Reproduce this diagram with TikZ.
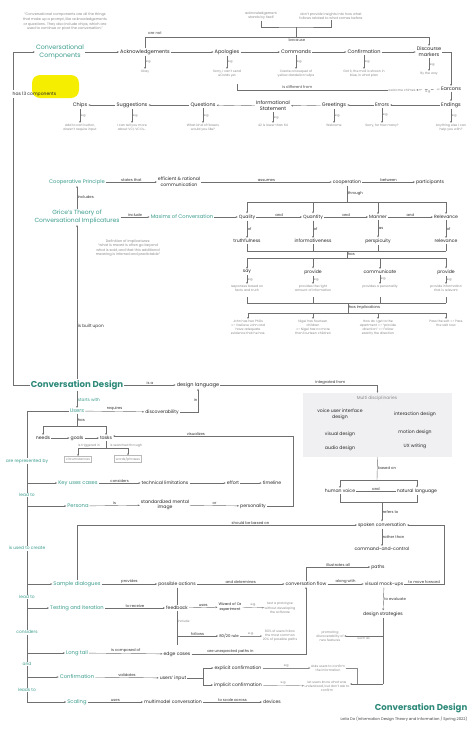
\documentclass[tikz,border=0pt]{standalone}
\usepackage{fontspec}
\setmainfont{Poppins}
\usetikzlibrary{arrows.meta,calc}
\definecolor{tealc}{HTML}{3A9C8C}
\definecolor{tealdark}{HTML}{2E8A7A}
\definecolor{lnc}{HTML}{707070}
\definecolor{egc}{HTML}{8A8A8A}
\definecolor{boxc}{HTML}{F0F0F2}
\definecolor{hl}{HTML}{F5EE00}
\begin{document}
\begin{tikzpicture}[x=1pt,y=-1pt,
 c/.style={font=\fontsize{4.6}{5.6}\selectfont, text=black!85, inner sep=1pt, align=center},
 ct/.style={font=\fontsize{5}{6}\selectfont, text=black!85, inner sep=1pt, align=center},
 tc/.style={font=\fontsize{5.2}{6.2}\selectfont, text=tealc, inner sep=1pt, align=center},
 eg/.style={font=\fontsize{3.2}{4.1}\selectfont, text=egc, inner sep=0.5pt, align=center},
 lk/.style={font=\fontsize{3.8}{4.6}\selectfont, text=black!80, inner sep=0.6pt},
 egl/.style={font=\fontsize{3.2}{4}\selectfont, text=egc, inner sep=0.6pt},
 tlk/.style={font=\fontsize{4.4}{5.3}\selectfont, text=tealc, fill=white, inner sep=0.8pt},
 ln/.style={draw=lnc, line width=0.4pt},
 ar/.style={ln, -{Stealth[length=2pt,width=1.7pt]}},
 gbox/.style={draw=gray!55, line width=0.35pt, inner sep=1.5pt, font=\fontsize{3.2}{4}\selectfont, text=egc}
]
\fill[white] (0,0) rectangle (474,732);
\path[use as bounding box] (0,0) rectangle (474,732);

% ---------- top section ----------
\node[eg, font=\fontsize{3.5}{4.6}\selectfont] (quote) at (65,22) {“Conversational components are all the things\\that make up a prompt, like acknowledgements\\or questions. They also include chips, which are\\used to continue or pivot the conversation.”};
\node[eg, font=\fontsize{3.4}{4.3}\selectfont] (ackt) at (261,16) {acknowledgement\\stands by itself};
\node[eg, font=\fontsize{3.4}{4.3}\selectfont] (dont) at (331,16) {don't provide insights into how what\\follows related to what comes before};

\node[tc, font=\fontsize{6.3}{7.6}\selectfont] (cc) at (60,52) {Conversational\\Components};
\node[ct] (ack) at (145,52) {Acknowledgements};
\node[ct] (apol) at (227,52) {Apologies};
\node[ct] (cmd) at (296,52) {Commands};
\node[ct] (conf) at (364,52) {Confirmation};
\node[ct] (disc) at (429,52) {Discourse\\markers};
\node[ct] (earc) at (451,89) {Earcons};
\node[eg] (wc) at (402,90) {welcome chimes};

\node[eg, anchor=north] (ackx) at (145,69) {Okay};
\node[eg, anchor=north] (apolx) at (227,69) {Sorry, I can't send\\eCards yet};
\node[eg, anchor=north] (cmdx) at (296,69) {Create a bouquet of\\yellow dandelion tulips};
\node[eg, anchor=north] (confx) at (364,69) {Got it, the mail is shown in\\blue, in what plan};
\node[eg, anchor=north] (discx) at (429,71) {By the way};

\node[ct] (chips) at (80,105) {Chips};
\node[ct] (sugg) at (132,105) {Suggestions};
\node[ct] (ques) at (203,105) {Questions};
\node[ct] (info) at (273,106) {Informational\\Statement};
\node[ct] (greet) at (334,105) {Greetings};
\node[ct] (err) at (382,105) {Errors};
\node[ct] (endg) at (451,105) {Endings};

\node[eg, anchor=north] (chipsx) at (80,123) {Add to cart button,\\doesn't require input};
\node[eg, anchor=north] (suggx) at (132,123) {I can tell you more\\about VCI, VCI is...};
\node[eg, anchor=north] (quesx) at (203,123) {What kind of flowers\\would you like?};
\node[eg, anchor=north] (infox) at (273,123) {42 is lower than 64};
\node[eg, anchor=north] (greetx) at (334,123) {Welcome};
\node[eg, anchor=north] (errx) at (382,123) {Sorry, for how many?};
\node[eg, anchor=north] (endgx) at (451,123) {Anything else I can\\help you with?};

\draw[ar] (cc) -- (ack);
\draw[ar] (ack) -- (apol);
\draw[ar] (apol) -- (cmd);
\draw[ar] (cmd) -- (conf);
\draw[ar] (conf) -- (disc);
\draw[ar] (disc.east) -| (earc.north);
\draw[ar] (earc) -- (endg);
\draw[ar] (endg) -- (err);
\draw[ar] (err) -- (greet);
\draw[ar] (greet) -- (info);
\draw[ar] (info) -- (ques);
\draw[ar] (ques) -- (sugg);
\draw[ar] (sugg) -- (chips);
\draw[ar, dashed] (earc.west) -- (wc.east) node[midway, below=0.6pt, egl] {e.g.};

\foreach \a in {ack,apol,cmd,conf,disc,chips,sugg,ques,info,greet,err,endg}{
  \draw[ar] (\a.south) -- (\a x.north) node[midway, right, egl] {e.g.};
}

\coordinate (an) at (145,37);
\draw[ar] (ack.north) -- (an) -| (disc.north);
\node[lk, text=black!70] (arenot) at (155,33) {are not};
\node[lk, text=black!70] (because) at (297,40.5) {because};
\coordinate (bm) at (296,27);
\draw[ln] (ackt.south) |- (bm) -| (dont.south);
\draw[ln] (bm) -- (bm |- an);

\coordinate (dfa) at (237,84);
\draw[ln] (dfa) |- (wc.west) node[pos=0.7, above=0.3pt, lk, text=black!70] {is different from};

\coordinate (lx1) at (13,385);
\coordinate (lx2) at (13,52);

% ---------- Grice section ----------
\node[tc] (coop) at (77,182) {Cooperative Principle};
\node[c] (eff) at (179,182) {efficient \& rational\\communication};
\node[c] (coopn) at (347,182) {cooperation};
\node[c] (part) at (430,182) {participants};
\node[tc, font=\fontsize{6}{7.4}\selectfont] (grice) at (77,217) {Grice's Theory of\\Conversational Implicatures};
\node[tc] (maxims) at (182,217) {Maxims of Conversation};
\node[c] (qual) at (247,217) {Quality};
\node[c] (quan) at (313,217) {Quantity};
\node[c] (mann) at (378,217) {Manner};
\node[c] (rel) at (446,217) {Relevance};
\node[c] (truth) at (247,241) {truthfulness};
\node[c] (inform) at (313,241) {informativeness};
\node[c] (persp) at (378,241) {perspicuity};
\node[c] (relv) at (446,241) {relevance};

\draw[ar] (coop) -- (eff) node[midway, above, lk] {states that};
\draw[ar] (eff) -- (coopn) node[midway, above, lk] {assumes};
\draw[ar] (coopn) -- (part) node[midway, above, lk] {between};
\draw[ar] (grice.north) -- (coop.south) node[midway, right, lk] {includes};
\draw[ar] (grice) -- (maxims) node[midway, above, lk] {include};
\draw[ar] (maxims) -- (qual);
\draw[ar] (qual) -- (quan) node[midway, above, lk] {and};
\draw[ar] (quan) -- (mann) node[midway, above, lk] {and};
\draw[ar] (mann) -- (rel) node[midway, above, lk] {and};

\coordinate (thr) at (347,202);
\draw[ln] (coopn.south) -- (thr) node[midway, right, lk] {through};
\draw[ln] (qual.north |- thr) -- (rel.north |- thr);
\foreach \a in {qual,quan,mann,rel}{ \draw[ar] (\a.north |- thr) -- (\a.north); }
\draw[ar] (qual) -- (truth) node[midway, right, lk] {of};
\draw[ar] (quan) -- (inform) node[midway, right, lk] {of};
\draw[ar] (mann) -- (persp) node[midway, right, lk] {as};
\draw[ar] (rel) -- (relv) node[midway, right, lk] {of};

\coordinate (hb) at (347,251);
\coordinate (hb2) at (347,258);
\foreach \a in {truth,inform,persp,relv}{ \draw[ln] (\a.south) -- (\a.south |- hb); }
\draw[ln] (truth.south |- hb) -- (relv.south |- hb);
\draw[ln] (hb) -- (hb2) node[midway, right, lk] {has};

\node[c] (say) at (247,272) {say};
\node[c] (prova) at (313,272) {provide};
\node[c] (comm) at (380,272) {communicate};
\node[c] (provb) at (446,272) {provide};
\draw[ln] (say.north |- hb2) -- (provb.north |- hb2);
\foreach \a in {say,prova,comm,provb}{ \draw[ar] (\a.north |- hb2) -- (\a.north); }

\node[eg, anchor=north] (sayx) at (247,284) {responses based on\\facts and truth};
\node[eg, anchor=north] (provax) at (313,284) {provides the right\\amount of information};
\node[eg, anchor=north] (commx) at (380,284) {provides a personality};
\node[eg, anchor=north] (provbx) at (446,284) {provide information\\that is relevant};
\foreach \a in {say,prova,comm,provb}{ \draw[ar] (\a.south) -- (\a x.north) node[midway, right, egl] {e.g.}; }

\coordinate (ib) at (348,303);
\coordinate (ib2) at (348,313);
\foreach \a in {say,prova,comm,provb}{ \draw[ln] (\a.south |- 0,297) -- (\a.south |- ib); }
\draw[ln] (say.south |- ib) -- (provb.south |- ib);
\draw[ln] (ib) -- (ib2) node[midway, right, lk] {has implications};

\node[eg, anchor=north] (ima) at (248,319) {John has two PhDs\\=> I believe John and\\have adequate\\evidence that he has.};
\node[eg, anchor=north] (imb) at (313,319) {Nigel has fourteen\\children\\=> Nigel has no more\\than fourteen children};
\node[eg, anchor=north] (imc) at (378,319) {How do I get to the\\apartment => “provide\\direction” => Follow\\exactly the direction};
\node[eg, anchor=north] (imd) at (446,319) {Pass the salt => Pass\\the salt now};
\draw[ln] (ima.north |- ib2) -- (imd.north |- ib2);
\foreach \a in {ima,imb,imc,imd}{ \draw[ar] (\a.north |- ib2) -- (\a.north); }

\node[eg, font=\fontsize{3.5}{4.4}\selectfont] (defimp) at (128,248) {Definition of Implicatures:\\“what is meant is often go beyond\\what is said, and that this additional\\meaning is inferred and predictable”};

% ---------- Conversation design ----------
\node[font=\fontsize{8.6}{10}\bfseries, text=tealdark, inner sep=1pt] (cdes) at (77,385) {Conversation Design};
\draw[ar] (cdes.north) -- (grice.south) node[pos=0.34, right, lk, font=\fontsize{4.3}{5}\selectfont] {is built upon};
\draw[ar] (cdes.west) -- (lx1) -- (lx2) -- (cc.west);
\fill[white] (11,90) rectangle (33,98);
\fill[hl, rounded corners=8pt] (32,75) rectangle (79,98);
\node[anchor=west, font=\fontsize{4.5}{5.4}\selectfont, text=black!85, inner sep=0.5pt] (has13) at (12,94) {has 13 components};

\node[ct] (dlang) at (198,385) {design language};
\draw[ar] (cdes.east) -- (dlang.west) node[midway, above, lk] {is a};

\node[fill=boxc, minimum width=149pt, minimum height=64pt, inner sep=0pt] (multi) at (377.5,425) {};
\node[font=\fontsize{4.4}{5.3}\selectfont, text=egc] (mt) at (377,398) {Multi disciplinaries};
\node[c] (mda) at (340,414.5) {voice user interface\\design};
\node[c] (mdb) at (415,414) {interaction design};
\node[c] (mdc) at (340,434) {visual design};
\node[c] (mdd) at (415,432) {motion design};
\node[c] (mde) at (340,448) {audio design};
\node[c] (mdf) at (415,446) {UX writing};
\draw[ar] (dlang.east) -| (multi.north) node[pos=0.35, above, lk] {integrated from};

\node[tc] (users) at (77,411) {Users};
\draw[ar] (cdes.south) -- (users.north) node[midway, right, lk, text=tealc, font=\fontsize{4.3}{5}\selectfont] {starts with};
\node[c] (disco) at (162,412) {discoverability};
\draw[ar] (users) -- (disco) node[midway, above, lk] {requires};
\draw[ar] (disco.east) -| (dlang.south) node[pos=0.75, left, lk] {in};

\node[c] (needs) at (43,438) {needs};
\node[c] (goals) at (77,438) {goals};
\node[c] (tasks) at (106,438) {tasks};
\coordinate (ub) at (77,426);
\draw[ln] (users.south) -- (ub) node[midway, right, lk] {has};
\draw[ln] (needs.north |- ub) -- (tasks.north |- ub);
\draw[ar] (needs.north |- ub) -- (needs.north);
\draw[ar] (tasks.north |- ub) -- (tasks.north);
\draw[ar] (needs) -- (goals);
\draw[ar] (goals) -- (tasks);

\node[gbox] (circ) at (78,459) {circumstances};
\node[gbox] (words) at (128,459) {words/phrases};
\coordinate (tb) at (106,448);
\draw[ln] (tasks.south) -- (tb);
\draw[ln] (circ.north |- tb) -- (words.north |- tb);
\draw[ar] (circ.north |- tb) -- (circ.north);
\draw[ar] (words.north |- tb) -- (words.north);
\node[egl, above=0pt] at (89,448) {is triggered in};
\node[egl, above=0pt] at (126,448) {is searched through};

% left teal branch line
\coordinate (L0) at (27,411);
\coordinate (L1) at (27,702);
\draw[ln] (users.west) -- (L0) -- (L1);

\node[tc] (keyuc) at (78,483) {Key uses cases};
\node[c] (tech) at (165,483) {technical limitations};
\node[c] (effort) at (233,483) {effort};
\node[c] (timel) at (272,483) {timeline};
\draw[ar] (keyuc) -- (tech) node[midway, above, lk] {considers};
\draw[ar] (tech) -- (effort);
\draw[ar] (effort) -- (timel);

\node[tc] (persona) at (78,506) {Persona};
\node[c] (smi) at (165,505) {standardized mental\\image};
\node[c] (pers) at (253,506) {personality};
\draw[ar] (persona) -- (smi) node[midway, above, lk] {is};
\draw[ar] (smi) -- (pers) node[midway, above, lk] {or};
\coordinate (vz) at (293,436);
\draw[ar] (pers.east) -| (vz) -- (tasks.east |- vz) node[pos=0.54, above, lk] {visualizes};

\node[c] (hv) at (340,491) {human voice};
\node[c] (nl) at (417,491) {natural language};
\coordinate (bt) at (377,480);
\draw[ln] (multi.south) -- (bt) node[midway, right, lk] {based on};
\draw[ln] (hv.north |- bt) -- (nl.north |- bt);
\draw[ar] (hv.north |- bt) -- (hv.north);
\draw[ar] (nl.north |- bt) -- (nl.north);
\draw[ln] (hv) -- (nl) node[midway, above, lk] {and};
\coordinate (bb) at (382,502);
\draw[ln] (hv.south) -- (hv.south |- bb) -- (nl.south |- bb) -- (nl.south);
\node[c] (spoken) at (382,525) {spoken conversation};
\node[c] (cmdctl) at (382,549) {command-and-control};
\draw[ar] (bb) -- (spoken.north) node[midway, right, lk] {refers to};
\draw[ar] (spoken) -- (cmdctl) node[midway, right, lk] {rather than};

\node[tc] (sample) at (77,584) {Sample dialogues};
\node[c] (possa) at (177,584) {possible actions};
\node[c] (cflow) at (306,584) {conversation flow};
\node[c] (paths) at (378,567) {paths};
\node[c] (vmock) at (384,584) {visual mock-ups};
\node[c] (dstrat) at (383,614) {design strategies};
\draw[ar] (sample.north) |- (spoken.west) node[pos=0.81, above, lk] {should be based on};
\draw[ar] (sample) -- (possa) node[midway, above, lk] {provides};
\draw[ar] (possa) -- (cflow) node[midway, above, lk] {and determines};
\draw[ar] (cflow.north) |- (paths.west) node[pos=0.75, above, lk] {illustrates all};
\draw[ar] (cflow) -- (vmock) node[midway, above, lk] {along with};
\coordinate (mf) at (444,525);
\draw[ar] (vmock.east) -| node[pos=0.25, above, lk] {to move forward} (mf) -- (spoken.east);
\draw[ar] (vmock) -- (dstrat) node[midway, right, lk] {to evaluate};

\node[tc] (testing) at (77,608) {Testing and iteration};
\node[c] (feedback) at (177,608) {feedback};
\node[c, font=\fontsize{3.7}{4.5}\selectfont] (woz) at (230,607) {Wizard of Oz\\experiment};
\node[eg] (testx) at (280,608) {test a prototype\\without developing\\the software};
\draw[ar] (testing) -- (feedback) node[midway, above, lk] {to receive};
\draw[ar] (feedback) -- (woz) node[midway, above, lk] {uses};
\draw[ar, draw=egc] (woz) -- (testx) node[midway, above, egl] {e.g.};
\draw[ln] (possa) -- (feedback);
\coordinate (fi) at (177,645);
\draw[ln] (feedback.south) -- (fi) node[pos=0.3, right, egl] {include};
\coordinate (ff) at (177,636);
\node[c, font=\fontsize{3.8}{4.6}\selectfont] (rule) at (229,636) {80/20 rule};
\node[eg] (rulex) at (280,636) {80\% of users follow\\the most common\\20\% of possible paths};
\draw[ar] (ff) -- (rule.west) node[midway, above, lk] {follows};
\draw[ar, draw=egc] (rule) -- (rulex) node[midway, above, egl] {e.g.};

\node[tc] (longtail) at (77,653) {Long tail};
\node[c] (edge) at (177,654) {edge cases};
\draw[ar] (longtail) -- (edge) node[midway, above, lk] {is composed of};
\draw[ar] (edge.east) -| (cflow.south) node[pos=0.17, above, lk] {are unexpected paths in};

\node[eg] (promo) at (330,636) {promoting\\discoverability of\\new features};
\coordinate (ds1) at (383,684);
\draw[ln] (dstrat.south) -- (ds1);
\draw[ar] (dstrat.south |- promo) -- (promo.east) node[midway, below, egl] {such as};

\node[tc] (conf2) at (77,677) {Confirmation};
\node[c] (uinput) at (173,678) {users' input};
\node[c] (expl) at (238,668) {explicit confirmation};
\node[c] (impl) at (238,685) {implicit confirmation};
\node[eg] (asks) at (328,668) {Asks users to confirm\\the information};
\node[eg] (letk) at (327,686) {let users know what was\\understood, but don't ask to\\confirm};
\draw[ar] (conf2) -- (uinput) node[midway, above, lk] {validates};
\coordinate (ui) at (203,678);
\draw[ln] (uinput.east) -- (ui);
\draw[ln] (ui |- expl) -- (ui |- impl);
\draw[ar] (ui |- expl) -- (expl.west);
\draw[ar] (ui |- impl) -- (impl.west);
\draw[ar, draw=egc] (expl) -- (asks) node[midway, above, egl] {e.g.};
\draw[ar, draw=egc] (impl) -- (letk) node[midway, above, egl] {e.g.};
\coordinate (ak) at (357,668);
\draw[ln, draw=egc] (asks.east) -| (ak |- ds1);
\draw[ar] (ds1) -- (letk.east |- ds1);

\node[tc] (scaling) at (77,702) {Scaling};
\node[c] (mmc) at (173,702) {multimodel conversation};
\node[c] (devices) at (272,702) {devices};
\draw[ar] (scaling) -- (mmc) node[midway, above, lk] {uses};
\draw[ar] (mmc) -- (devices) node[midway, above, lk] {to scale across};

\foreach \n in {keyuc,persona,sample,testing,longtail,conf2,scaling}{ \draw[ar] (\n.west -| L0) -- (\n.west); }
\node[tlk] at (27,461) {are represented by};
\node[tlk] at (27,495) {lead to};
\node[tlk] at (27,548) {is used to create};
\node[tlk] at (27,597) {lead to};
\node[tlk] at (27,632) {considers};
\node[tlk] at (27,664) {and};
\node[tlk] at (27,690) {leads to};

% footer
\node[anchor=east, font=\fontsize{8.6}{10}\bfseries, text=tealdark, inner sep=0.5pt] (ft) at (468,708) {Conversation Design};
\node[anchor=east, font=\fontsize{3.8}{4.6}\selectfont, text=black!75, inner sep=0.5pt] (ftb) at (468,719) {Leila Do (Information Design Theory and Information / Spring 2022)};
\end{tikzpicture}
\end{document}
